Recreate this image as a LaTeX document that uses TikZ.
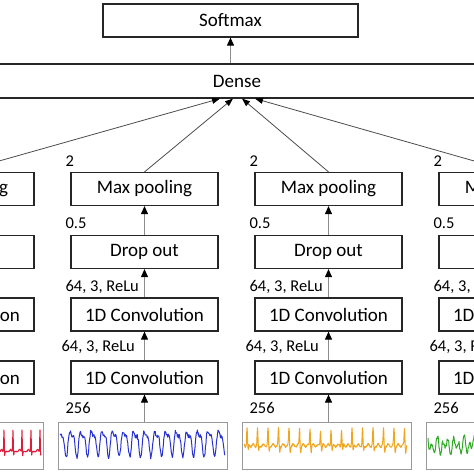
\documentclass[tikz,border=0pt]{standalone}
\usepackage{fontspec}
\setmainfont{Carlito}
\usetikzlibrary{arrows.meta,calc}
\definecolor{sigred}{RGB}{220,30,60}
\definecolor{sigblue}{RGB}{40,50,210}
\definecolor{sigorange}{RGB}{240,165,30}
\definecolor{siggreen}{RGB}{50,170,40}
\tikzset{
    box/.style={draw=black!85, line width=1.2pt, minimum width=147, minimum height=33, inner sep=0pt, font=\fontsize{19}{22}\selectfont},
    lbl/.style={inner sep=0pt, anchor=base west, font=\fontsize{16.5}{19}\selectfont},
    sigbox/.style={draw=black!40, line width=1pt, minimum width=169, minimum height=47, inner sep=0pt},
    flow/.style={draw=black!45, line width=1pt, -{Triangle[length=8pt,width=7pt,black]}},
    todense/.style={draw=black!70, line width=0.8pt, -{Triangle[length=8pt,width=6pt,black]}},
    wave/.style={line width=1pt, line join=round}
}
\begin{document}
\begin{tikzpicture}[x=1pt,y=-1pt]
    \useasboundingbox (0,0) rectangle (474,474);
    \clip (0,0) rectangle (474,474);
    \node[box, minimum width=255] (softmax) at (230.5,20.5) {Softmax};
    \node[box, minimum width=520, minimum height=34] (dense) at (237,81) {Dense};
    \draw[flow] (softmax.south |- dense.north) -- (softmax.south);
    \foreach \i/\cx in {1/-39.5,2/144.5,3/328.5,4/512.5} {
        \node[box] (pool\i) at (\cx,189) {Max pooling};
        \node[box] (drop\i) at (\cx,252) {Drop out};
        \node[box] (convA\i) at (\cx,314.5) {1D Convolution};
        \node[box] (convB\i) at (\cx,377.5) {1D Convolution};
        \node[sigbox] (sig\i) at (\cx-1.5,445.5) {};
        \node[lbl] (poolp\i) at ($(pool\i.north west)+(-5,-5)$) {2};
        \node[lbl] (dropp\i) at ($(drop\i.north west)+(-5,-6)$) {0.5};
        \node[lbl] (convAp\i) at ($(convA\i.north west)+(-5,-6)$) {64, 3, ReLu};
        \node[lbl] (convBp\i) at ($(convB\i.north west)+(-9,-9)$) {64, 3, ReLu};
        \node[lbl] (sigp\i) at ($(convB\i.south west)+(-5,19)$) {256};
        \draw[flow] (convB\i.south |- sig\i.north) -- (convB\i.south);
        \draw[flow] (convB\i) -- (convA\i);
        \draw[flow] (convA\i) -- (drop\i);
        \draw[flow] (drop\i) -- (pool\i);
    }
    \foreach \i/\dx in {1/-17,2/-4,3/5,4/18}
        \draw[todense] (pool\i.north) -- ($(dense.south)+(\dx,0)$);
    \pgfmathsetseed{7}
    \begin{scope}[shift={(sig1.west)}]
        \draw[wave, sigred] plot[domain=2:167, samples=660] (\x, {-(-6 + 22*exp(-min(20,(mod(\x,9)-4)^2/0.15)) - 5*exp(-min(20,(mod(\x,9)-4.6)^2/0.15)) + 2*exp(-min(20,(mod(\x,9)-1.5)^2/1)) + 0.5*rand)});
    \end{scope}
    \begin{scope}[shift={(sig2.west)}]
        \draw[wave, sigblue] plot[domain=2:167, samples=330] (\x, {-(4 + 11*sin(360*(\x/10.6)) + 5*sin(720*(\x/10.6)+60) + 2*rand)});
    \end{scope}
    \begin{scope}[shift={(sig3.west)}]
        \draw[wave, sigorange] plot[domain=2:165, samples=650] (\x, {-(1.5*sin(360*(\x/5)) + 17*exp(-min(20,(mod(\x,10.5)-5)^2/0.3)) - 6*exp(-min(20,(mod(\x,10.5)-6.2)^2/0.3)) + 0.8*rand)});
    \end{scope}
    \begin{scope}[shift={(sig4.west)}]
        \draw[wave, siggreen] plot[domain=2:167, samples=330] (\x, {-(4*sin(360*(\x/9)) + 6*sin(360*(\x/5.3)+30) + 2.5*rand)});
    \end{scope}
\end{tikzpicture}
\end{document}
